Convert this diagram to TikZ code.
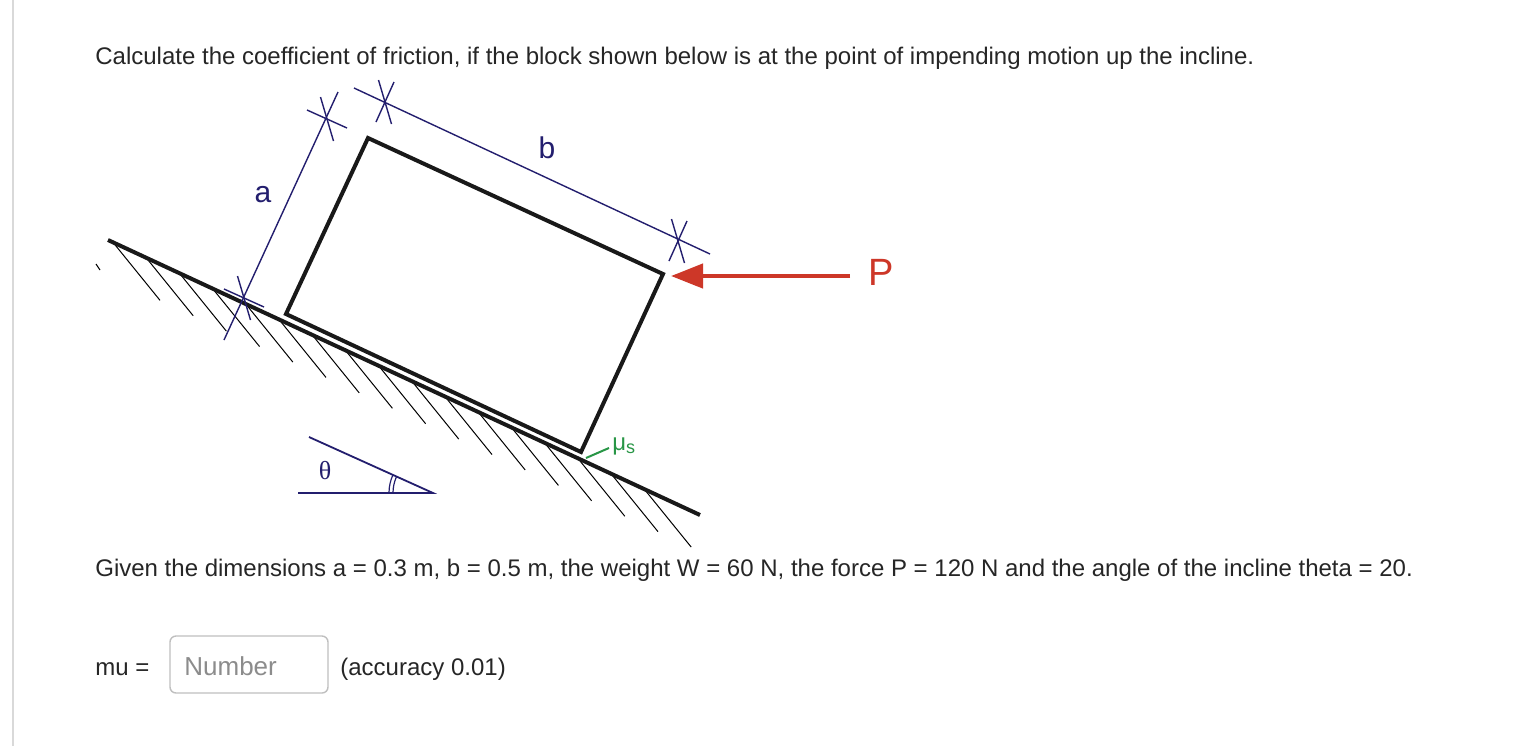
\documentclass[tikz,border=0pt]{standalone}
\usepackage{fontspec}
\setmainfont{Liberation Sans}
\newfontfamily\serifgr{Liberation Serif}
\usetikzlibrary{arrows.meta}
\definecolor{navy}{RGB}{35,30,110}
\definecolor{pred}{RGB}{205,55,40}
\definecolor{mgreen}{RGB}{40,150,70}
\begin{document}
\begin{tikzpicture}[x=0.5pt,y=-0.5pt,
  txt/.style={anchor=base west,inner sep=0pt,font=\fontsize{12pt}{14pt}\selectfont,text=black!85},
  dimln/.style={navy,line width=0.7pt},
  thick blk/.style={line width=2pt,black!90},
  hatch/.style={line width=0.5pt,black}]
\useasboundingbox (0,0) rectangle (1522,746);
\fill[white] (0,0) rectangle (1522,746);
\draw[black!15,line width=1pt] (13,0) -- (13,746);
\node[txt] (q) at (95,64) {Calculate the coefficient of friction, if the block shown below is at the point of impending motion up the incline.};
\node[txt] (g) at (95,576) {Given the dimensions a = 0.3 m, b = 0.5 m, the weight W = 60 N, the force P = 120 N and the angle of the incline theta = 20.};
\node[txt] (mu) at (95,675) {mu =};
\draw[black!25,rounded corners=3pt,line width=0.7pt] (170,636) rectangle (328,693);
\node[txt,text=black!45,font=\fontsize{13pt}{15pt}\selectfont] (num) at (184,675) {Number};
\node[txt] (acc) at (340,675) {(accuracy 0.01)};
% hatches
\foreach \k in {0,...,16} {
  \pgfmathsetmacro{\xs}{113+\k*33.2}
  \pgfmathsetmacro{\ys}{240+(\xs-108)*0.4645}
  \draw[hatch] (\xs,\ys) -- ++(47,58);
}
\draw[hatch] (96,264) -- (100,270);
% incline
\coordinate (i1) at (108,240);
\coordinate (i2) at (700,515);
\draw[thick blk] (i1) -- (i2);
\fill[white] (284,309) -- (583,448) -- (585,455) -- (286,317) -- cycle;
% block
\coordinate (c1) at (368,138);
\coordinate (c2) at (663,274);
\coordinate (c3) at (581,452);
\coordinate (c4) at (286,314);
\draw[thick blk,line join=miter] (c1) -- (c2) -- (c3) -- (c4) -- cycle;
% dimension a
\coordinate (a1) at (224,340); \coordinate (a2) at (338,92);
\coordinate (ta1) at (244,298); \coordinate (ta2) at (327,119);
\draw[dimln] (a1) -- (a2);
\foreach \p in {ta1,ta2} {
  \draw[dimln] (\p) ++(-20,-9) -- ++(40,18);
  \draw[dimln] (\p) ++(-6.5,-22) -- ++(13,44);
}
\node[navy,font=\fontsize{15pt}{17pt}\selectfont] (la) at (263,195) {a};
% dimension b
\coordinate (b1) at (354,88); \coordinate (b2) at (710,254);
\coordinate (tb1) at (385,102); \coordinate (tb2) at (678,241);
\draw[dimln] (b1) -- (b2);
\foreach \p in {tb1,tb2} {
  \draw[dimln] (\p) ++(-9,20) -- ++(18,-40);
  \draw[dimln] (\p) ++(-6.5,-22) -- ++(13,44);
}
\node[navy,font=\fontsize{15pt}{17pt}\selectfont] (lb) at (547,148) {b};
% force P
\coordinate (pt) at (671,276);
\coordinate (ps) at (850,276);
\draw[pred,line width=2.2pt,-{Triangle[length=16pt,width=12pt]}] (ps) -- (pt);
\node[pred,font=\fontsize{19pt}{21pt}\selectfont] (lp) at (881,272) {P};
% mu_s
\coordinate (m1) at (586,458); \coordinate (m2) at (609,448);
\draw[mgreen,line width=1pt] (m1) -- (m2);
\node[mgreen,anchor=west,inner sep=0pt,font=\fontsize{12pt}{14pt}\selectfont] (ms) at (612,446) {μ\raisebox{-0.3ex}{\fontsize{9pt}{10pt}\selectfont s}};
% theta
\coordinate (tv) at (433,493);
\coordinate (th1) at (309,437);
\coordinate (th2) at (298,493);
\draw[dimln,line width=0.9pt] (th1) -- (tv) -- (th2);
\draw[dimln,line width=0.6pt] (tv) ++(180:40) arc[start angle=180,end angle=204.3,radius=40];
\draw[dimln,line width=0.6pt] (tv) ++(180:44) arc[start angle=180,end angle=204.3,radius=44];
\node[navy,font=\serifgr\fontsize{13pt}{15pt}\selectfont] (lt) at (325,471) {θ};
\end{tikzpicture}
\end{document}
